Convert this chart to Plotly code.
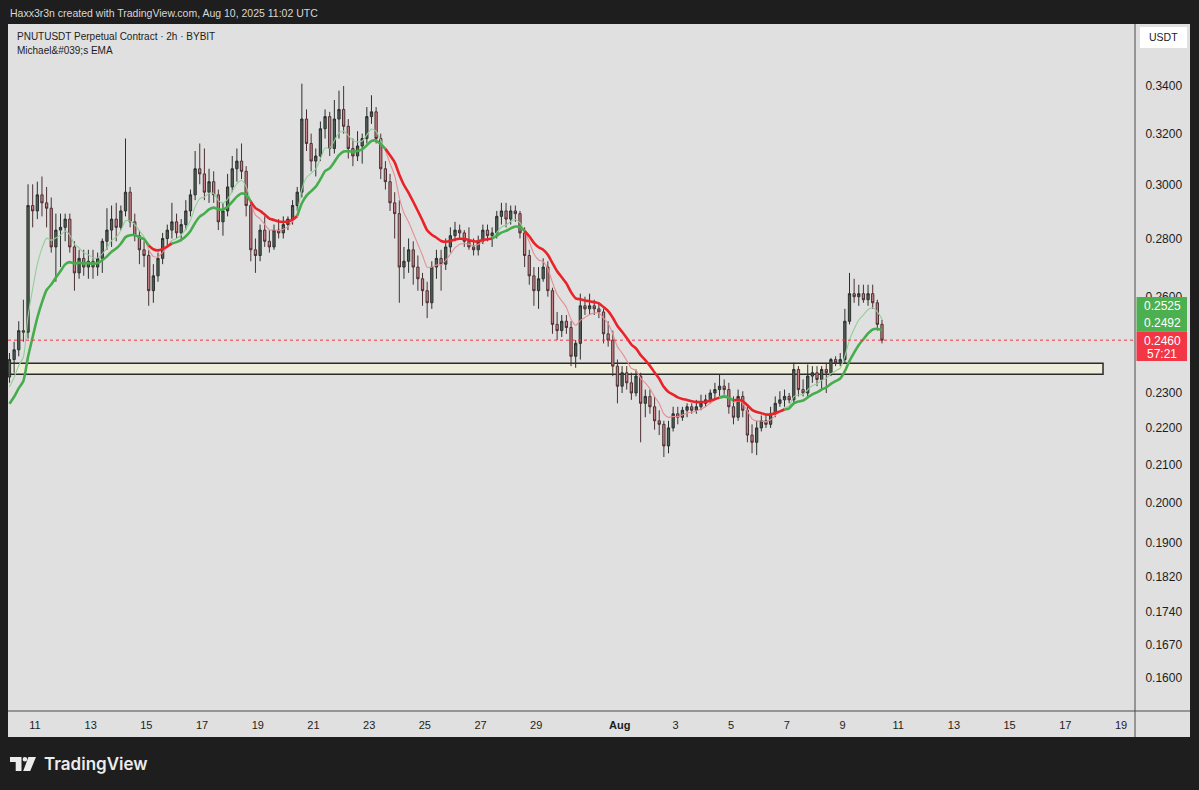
import math
import pandas as pd
import plotly.graph_objects as go

# ---------------- data (PNUTUSDT, candles, 4h buckets) ----------------
bar_start = "2025-07-10 00:00"
opens = [
    0.2347, 0.2400, 0.2430, 0.2490, 0.2485, 0.2920,  # Jul 10
    0.2900, 0.2960, 0.2930, 0.2910, 0.2770, 0.2830,  # Jul 11
    0.2840, 0.2870, 0.2770, 0.2680, 0.2730, 0.2700,  # Jul 12
    0.2720, 0.2700, 0.2730, 0.2790, 0.2830, 0.2870,  # Jul 13
    0.2840, 0.2900, 0.2970, 0.2860, 0.2810, 0.2760,  # Jul 14
    0.2740, 0.2620, 0.2670, 0.2730, 0.2800, 0.2830,  # Jul 15
    0.2860, 0.2820, 0.2850, 0.2900, 0.2960, 0.3060,  # Jul 16
    0.3040, 0.2970, 0.3010, 0.2960, 0.2860, 0.2900,  # Jul 17
    0.2990, 0.3060, 0.3090, 0.3050, 0.2920, 0.2760,  # Jul 18
    0.2740, 0.2830, 0.2790, 0.2770, 0.2830, 0.2820,  # Jul 19
    0.2850, 0.2870, 0.2920, 0.2970, 0.3260, 0.3160,  # Jul 20
    0.3090, 0.3110, 0.3220, 0.3270, 0.3140, 0.3260,  # Jul 21
    0.3300, 0.3230, 0.3140, 0.3110, 0.3150, 0.3180,  # Jul 22
    0.3270, 0.3290, 0.3180, 0.3060, 0.3010, 0.2930,  # Jul 23
    0.2890, 0.2700, 0.2720, 0.2760, 0.2700, 0.2660,  # Jul 24
    0.2620, 0.2580, 0.2700, 0.2730, 0.2710, 0.2770,  # Jul 25
    0.2810, 0.2830, 0.2820, 0.2790, 0.2770, 0.2760,  # Jul 26
    0.2790, 0.2830, 0.2810, 0.2820, 0.2880, 0.2900,  # Jul 27
    0.2870, 0.2900, 0.2890, 0.2820, 0.2740, 0.2670,  # Jul 28
    0.2620, 0.2660, 0.2700, 0.2620, 0.2510, 0.2490,  # Jul 29
    0.2520, 0.2500, 0.2410, 0.2450, 0.2570, 0.2560,  # Jul 30
    0.2570, 0.2560, 0.2550, 0.2480, 0.2460, 0.2380,  # Jul 31
    0.2320, 0.2360, 0.2330, 0.2300, 0.2350, 0.2270,  # Aug 1
    0.2290, 0.2260, 0.2220, 0.2210, 0.2150, 0.2200,  # Aug 2
    0.2240, 0.2230, 0.2250, 0.2260, 0.2250, 0.2260,  # Aug 3
    0.2270, 0.2280, 0.2300, 0.2310, 0.2320, 0.2310,  # Aug 4
    0.2260, 0.2230, 0.2290, 0.2250, 0.2180, 0.2160,  # Aug 5
    0.2200, 0.2220, 0.2210, 0.2240, 0.2270, 0.2280,  # Aug 6
    0.2290, 0.2280, 0.2370, 0.2310, 0.2300, 0.2350,  # Aug 7
    0.2360, 0.2340, 0.2370, 0.2360, 0.2400, 0.2390,  # Aug 8
    0.2400, 0.2520, 0.2610, 0.2600, 0.2610, 0.2590,  # Aug 9
    0.2610, 0.2580, 0.2510,                          # Aug 10
]
highs = [
    0.2420, 0.2455, 0.2520, 0.2590, 0.3000, 0.3000,
    0.3010, 0.3030, 0.2990, 0.2950, 0.2890, 0.2890,
    0.2890, 0.2890, 0.2790, 0.2760, 0.2760, 0.2760,
    0.2760, 0.2750, 0.2800, 0.2910, 0.2920, 0.2930,
    0.2920, 0.3180, 0.2990, 0.2890, 0.2830, 0.2790,
    0.2760, 0.2710, 0.2750, 0.2820, 0.2850, 0.2930,
    0.2890, 0.2870, 0.2940, 0.2980, 0.3130, 0.3160,
    0.3140, 0.3060, 0.3050, 0.2980, 0.2930, 0.3040,
    0.3110, 0.3140, 0.3160, 0.3070, 0.2940, 0.2800,
    0.2850, 0.2880, 0.2830, 0.2850, 0.2870, 0.2880,
    0.2880, 0.2940, 0.2990, 0.3410, 0.3300, 0.3200,
    0.3140, 0.3250, 0.3300, 0.3290, 0.3340, 0.3380,
    0.3400, 0.3260, 0.3180, 0.3210, 0.3200, 0.3310,
    0.3360, 0.3310, 0.3200, 0.3090, 0.3040, 0.2970,
    0.2940, 0.2770, 0.2800, 0.2790, 0.2740, 0.2680,
    0.2650, 0.2720, 0.2760, 0.2760, 0.2800, 0.2840,
    0.2860, 0.2850, 0.2830, 0.2840, 0.2800, 0.2810,
    0.2850, 0.2850, 0.2840, 0.2900, 0.2930, 0.2930,
    0.2920, 0.2920, 0.2900, 0.2840, 0.2760, 0.2700,
    0.2700, 0.2730, 0.2720, 0.2630, 0.2550, 0.2540,
    0.2540, 0.2520, 0.2460, 0.2610, 0.2600, 0.2610,
    0.2590, 0.2580, 0.2560, 0.2520, 0.2490, 0.2400,
    0.2380, 0.2380, 0.2360, 0.2370, 0.2360, 0.2310,
    0.2310, 0.2290, 0.2250, 0.2220, 0.2220, 0.2260,
    0.2260, 0.2260, 0.2270, 0.2270, 0.2280, 0.2295,
    0.2295, 0.2310, 0.2330, 0.2355, 0.2340, 0.2330,
    0.2290, 0.2310, 0.2305, 0.2260, 0.2210, 0.2220,
    0.2235, 0.2240, 0.2260, 0.2290, 0.2305, 0.2310,
    0.2300, 0.2390, 0.2380, 0.2340, 0.2385, 0.2380,
    0.2380, 0.2380, 0.2390, 0.2405, 0.2410, 0.2420,
    0.2560, 0.2680, 0.2660, 0.2640, 0.2640, 0.2640,
    0.2640, 0.2590, 0.2525,
]
lows = [
    0.2330, 0.2360, 0.2410, 0.2455, 0.2465, 0.2840,
    0.2870, 0.2880, 0.2840, 0.2750, 0.2650, 0.2700,
    0.2790, 0.2750, 0.2620, 0.2660, 0.2670, 0.2660,
    0.2660, 0.2670, 0.2680, 0.2760, 0.2770, 0.2790,
    0.2830, 0.2880, 0.2840, 0.2790, 0.2710, 0.2700,
    0.2570, 0.2580, 0.2650, 0.2710, 0.2770, 0.2800,
    0.2800, 0.2790, 0.2830, 0.2880, 0.2940, 0.3000,
    0.2940, 0.2930, 0.2930, 0.2830, 0.2810, 0.2880,
    0.2970, 0.3010, 0.3020, 0.2880, 0.2720, 0.2680,
    0.2720, 0.2770, 0.2750, 0.2760, 0.2800, 0.2800,
    0.2830, 0.2850, 0.2900, 0.2950, 0.3130, 0.3050,
    0.3030, 0.3090, 0.3180, 0.3110, 0.3120, 0.3180,
    0.3200, 0.3100, 0.3070, 0.3090, 0.3080, 0.3160,
    0.3240, 0.3160, 0.3020, 0.2980, 0.2900, 0.2800,
    0.2580, 0.2660, 0.2680, 0.2640, 0.2620, 0.2570,
    0.2530, 0.2560, 0.2660, 0.2620, 0.2690, 0.2750,
    0.2790, 0.2800, 0.2770, 0.2760, 0.2740, 0.2740,
    0.2780, 0.2790, 0.2770, 0.2800, 0.2850, 0.2840,
    0.2850, 0.2860, 0.2800, 0.2700, 0.2640, 0.2570,
    0.2560, 0.2650, 0.2600, 0.2480, 0.2460, 0.2470,
    0.2480, 0.2380, 0.2375, 0.2400, 0.2540, 0.2540,
    0.2540, 0.2530, 0.2450, 0.2440, 0.2350, 0.2270,
    0.2300, 0.2310, 0.2280, 0.2290, 0.2160, 0.2230,
    0.2240, 0.2195, 0.2180, 0.2120, 0.2130, 0.2190,
    0.2210, 0.2220, 0.2230, 0.2240, 0.2240, 0.2250,
    0.2260, 0.2270, 0.2280, 0.2290, 0.2290, 0.2240,
    0.2210, 0.2220, 0.2230, 0.2160, 0.2130, 0.2125,
    0.2190, 0.2200, 0.2200, 0.2230, 0.2260, 0.2260,
    0.2270, 0.2270, 0.2290, 0.2290, 0.2290, 0.2330,
    0.2320, 0.2310, 0.2300, 0.2350, 0.2380, 0.2380,
    0.2390, 0.2510, 0.2580, 0.2570, 0.2580, 0.2570,
    0.2560, 0.2490, 0.2450,
]
closes = [
    0.2400, 0.2430, 0.2490, 0.2485, 0.2920, 0.2900,
    0.2960, 0.2930, 0.2910, 0.2770, 0.2830, 0.2840,
    0.2870, 0.2770, 0.2680, 0.2730, 0.2700, 0.2720,
    0.2700, 0.2730, 0.2790, 0.2830, 0.2870, 0.2840,
    0.2900, 0.2970, 0.2860, 0.2810, 0.2760, 0.2740,
    0.2620, 0.2670, 0.2730, 0.2800, 0.2830, 0.2860,
    0.2820, 0.2850, 0.2900, 0.2960, 0.3060, 0.3040,
    0.2970, 0.3010, 0.2960, 0.2860, 0.2900, 0.2990,
    0.3060, 0.3090, 0.3050, 0.2920, 0.2760, 0.2740,
    0.2830, 0.2790, 0.2770, 0.2830, 0.2820, 0.2850,
    0.2870, 0.2920, 0.2970, 0.3260, 0.3160, 0.3090,
    0.3110, 0.3220, 0.3270, 0.3140, 0.3260, 0.3300,
    0.3230, 0.3140, 0.3110, 0.3150, 0.3180, 0.3270,
    0.3290, 0.3180, 0.3060, 0.3010, 0.2930, 0.2890,
    0.2700, 0.2720, 0.2760, 0.2700, 0.2660, 0.2620,
    0.2580, 0.2700, 0.2730, 0.2710, 0.2770, 0.2810,
    0.2830, 0.2820, 0.2790, 0.2770, 0.2760, 0.2790,
    0.2830, 0.2810, 0.2820, 0.2880, 0.2900, 0.2870,
    0.2900, 0.2890, 0.2820, 0.2740, 0.2670, 0.2620,
    0.2660, 0.2700, 0.2620, 0.2510, 0.2490, 0.2520,
    0.2500, 0.2410, 0.2450, 0.2570, 0.2560, 0.2570,
    0.2560, 0.2550, 0.2480, 0.2460, 0.2380, 0.2320,
    0.2360, 0.2330, 0.2300, 0.2350, 0.2270, 0.2290,
    0.2260, 0.2220, 0.2210, 0.2150, 0.2200, 0.2240,
    0.2230, 0.2250, 0.2260, 0.2250, 0.2260, 0.2270,
    0.2280, 0.2300, 0.2310, 0.2320, 0.2310, 0.2260,
    0.2230, 0.2290, 0.2250, 0.2180, 0.2160, 0.2200,
    0.2220, 0.2210, 0.2240, 0.2270, 0.2280, 0.2290,
    0.2280, 0.2370, 0.2310, 0.2300, 0.2350, 0.2360,
    0.2340, 0.2370, 0.2360, 0.2400, 0.2390, 0.2400,
    0.2520, 0.2610, 0.2600, 0.2610, 0.2590, 0.2610,
    0.2580, 0.2510, 0.2460,
]

ytick_vals = [0.34, 0.32, 0.30, 0.28, 0.26, 0.23, 0.22, 0.21, 0.20, 0.19, 0.182, 0.174, 0.167, 0.16]
ytick_text = ["0.3400", "0.3200", "0.3000", "0.2800", "0.2600", "0.2300", "0.2200", "0.2100",
              "0.2000", "0.1900", "0.1820", "0.1740", "0.1670", "0.1600"]
xtick_dates = ["2025-07-11", "2025-07-13", "2025-07-15", "2025-07-17", "2025-07-19", "2025-07-21",
               "2025-07-23", "2025-07-25", "2025-07-27", "2025-07-29", "2025-08-01", "2025-08-03",
               "2025-08-05", "2025-08-07", "2025-08-09", "2025-08-11", "2025-08-13", "2025-08-15",
               "2025-08-17", "2025-08-19"]
xtick_text = ["11", "13", "15", "17", "19", "21", "23", "25", "27", "29", "<b>Aug</b>", "3", "5",
              "7", "9", "11", "13", "15", "17", "19"]

zone_low, zone_high = 0.23555, 0.23885
zone_start, zone_end = "2025-07-09 12:00", "2025-08-18 08:30"
last_price = 0.2460
label_fast, label_slow, label_last, countdown = "0.2525", "0.2492", "0.2460", "57:21"

# EMA settings (indicator "Michael's EMA"), expressed for the 4h buckets
alpha_fast, alpha_slow = 0.25, 0.125
seed_fast, seed_slow = 0.229, 0.225

# ---------------- derived ----------------
times = pd.date_range(bar_start, periods=len(closes), freq="4h") + pd.Timedelta(hours=2)

def ema(vals, alpha, seed):
    out, prev = [], seed
    for v in vals:
        prev = prev + alpha * (v - prev)
        out.append(prev)
    return out

fast = ema(closes, alpha_fast, seed_fast)
slow = ema(closes, alpha_slow, seed_slow)
bull = [f >= s for f, s in zip(fast, slow)]

# ---------------- geometry (pixels -> paper) ----------------
W, H = 1199, 790
PL, PR, PT, PB = 8, 1135, 24, 711

def px(x):
    return (x - PL) / (PR - PL)

def py(y):
    return (PB - y) / (PB - PT)

# y scale: log, 0.34 at y=86, 785.4 px per ln unit
def price_at(ypix):
    return 0.34 * math.exp(-(ypix - 86) / 785.4)

y_top, y_bot = price_at(PT), price_at(PB)
day_px = (1121 - 35) / 39.0
x_left = pd.Timestamp("2025-07-11") - pd.Timedelta(days=(35 - PL) / day_px)
x_right = pd.Timestamp("2025-08-19") + pd.Timedelta(days=(PR - 1121) / day_px)

fig = go.Figure()
fig.add_trace(go.Candlestick(
    x=times, open=opens, high=highs, low=lows, close=closes,
    increasing=dict(line=dict(color="#2a2f2c", width=1), fillcolor="#526157"),
    decreasing=dict(line=dict(color="#4a3033", width=1), fillcolor="#c98086"),
    whiskerwidth=0, hoverinfo="skip", showlegend=False,
))

def add_runs(vals, c_bull, c_bear, width):
    n = len(vals)
    start = 0
    for i in range(1, n + 1):
        if i == n or bull[i] != bull[start]:
            end = min(i, n - 1)
            fig.add_trace(go.Scatter(
                x=times[start:end + 1], y=vals[start:end + 1], mode="lines",
                line=dict(color=c_bull if bull[start] else c_bear, width=width, shape="spline", smoothing=0.6),
                hoverinfo="skip", showlegend=False))
            start = i

add_runs(fast, "#92cf98", "#e58e93", 1.1)
add_runs(slow, "#46ad4c", "#ea2329", 2.6)

shapes = [
    # light chart panel (plot + axes)
    dict(type="rect", xref="paper", yref="paper", x0=0, x1=px(1190), y0=py(737), y1=1,
         fillcolor="#e0e0e0", line=dict(width=0), layer="below"),
    # support zone
    dict(type="rect", xref="x", yref="y", x0=zone_start, x1=zone_end, y0=zone_low, y1=zone_high,
         fillcolor="#eeeddc", line=dict(color="#2a2a2a", width=1.5), layer="below"),
    # last price dotted line
    dict(type="line", xref="paper", yref="y", x0=0, x1=1, y0=last_price, y1=last_price,
         line=dict(color="#f23645", width=1, dash="dot")),
    # separators
    dict(type="line", xref="paper", yref="paper", x0=1, x1=1, y0=py(737), y1=1,
         line=dict(color="#4a4a4a", width=1)),
    dict(type="line", xref="paper", yref="paper", x0=0, x1=px(1190), y0=0, y1=0,
         line=dict(color="#4a4a4a", width=1)),
    # USDT box
    dict(type="rect", xref="paper", yref="paper", x0=px(1140), x1=px(1187), y0=py(48), y1=py(27),
         fillcolor="#ffffff", line=dict(width=0)),
    # price labels
    dict(type="rect", xref="paper", yref="paper", x0=px(1136.5), x1=px(1187), y0=py(314), y1=py(297),
         fillcolor="#4caf50", line=dict(width=0)),
    dict(type="rect", xref="paper", yref="paper", x0=px(1136.5), x1=px(1187), y0=py(331.5), y1=py(314),
         fillcolor="#4caf50", line=dict(width=0)),
    dict(type="rect", xref="paper", yref="paper", x0=px(1136.5), x1=px(1187), y0=py(361), y1=py(331.5),
         fillcolor="#f23645", line=dict(width=0)),
]

# TradingView logo glyph
def path(points):
    return "M " + " L ".join(f"{px(a):.5f},{py(b):.5f}" for a, b in points) + " Z"

shapes += [
    dict(type="path", xref="paper", yref="paper",
         path=path([(10, 757), (21.5, 757), (21.5, 771), (15.7, 771), (15.7, 762), (10, 762)]),
         fillcolor="#ececec", line=dict(width=0)),
    dict(type="circle", xref="paper", yref="paper", x0=px(22.6), x1=px(27.2), y0=py(761.6), y1=py(757),
         fillcolor="#ececec", line=dict(width=0)),
    dict(type="path", xref="paper", yref="paper",
         path=path([(28.4, 757), (36, 757), (30.2, 771), (23.2, 771)]),
         fillcolor="#ececec", line=dict(width=0)),
]

ann_font = "Liberation Sans, Arial, sans-serif"
annotations = [
    dict(text="Haxx3r3n created with TradingView.com, Aug 10, 2025 11:02 UTC", x=px(8), y=py(13),
         xanchor="left", yanchor="middle", font=dict(family=ann_font, size=10.5, color="#d8d8d8")),
    dict(text="PNUTUSDT Perpetual Contract · 2h · BYBIT", x=px(15), y=py(36),
         xanchor="left", yanchor="middle", font=dict(family=ann_font, size=10, color="#1c1c1c")),
    dict(text="Michael&amp;#039;s EMA", x=px(15), y=py(51),
         xanchor="left", yanchor="middle", font=dict(family=ann_font, size=10, color="#1c1c1c")),
    dict(text="USDT", x=px(1163.5), y=py(37.5), xanchor="center", yanchor="middle",
         font=dict(family=ann_font, size=10.5, color="#1c1c1c")),
    dict(text=label_fast, x=px(1162), y=py(305.5), xanchor="center", yanchor="middle",
         font=dict(family=ann_font, size=12, color="#ffffff")),
    dict(text=label_slow, x=px(1162), y=py(323), xanchor="center", yanchor="middle",
         font=dict(family=ann_font, size=12, color="#ffffff")),
    dict(text=label_last, x=px(1162), y=py(340.5), xanchor="center", yanchor="middle",
         font=dict(family=ann_font, size=12, color="#ffffff")),
    dict(text=countdown, x=px(1162), y=py(353.5), xanchor="center", yanchor="middle",
         font=dict(family=ann_font, size=12, color="#ffffff")),
    dict(text="TradingView", x=px(42), y=py(764), xanchor="left", yanchor="middle",
         font=dict(family="Inter, sans-serif", size=17, color="#ececec", weight=600)),
]
for a in annotations:
    a.update(xref="paper", yref="paper", showarrow=False)

fig.update_layout(
    width=W, height=H,
    margin=dict(l=PL, r=W - PR, t=PT, b=H - PB, pad=0),
    paper_bgcolor="#1e1e1e", plot_bgcolor="#e0e0e0",
    showlegend=False, hovermode=False,
    shapes=shapes, annotations=annotations,
    xaxis=dict(type="date", range=[x_left, x_right], rangeslider=dict(visible=False),
               showgrid=False, zeroline=False, showline=False,
               tickvals=xtick_dates, ticktext=xtick_text, ticks="outside", ticklen=4,
               tickcolor="rgba(0,0,0,0)", tickfont=dict(family=ann_font, size=11, color="#1c1c1c")),
    yaxis=dict(type="log", range=[math.log10(y_bot), math.log10(y_top)], side="right",
               showgrid=False, zeroline=False, showline=False,
               tickvals=ytick_vals, ticktext=ytick_text, ticks="outside", ticklen=7,
               tickcolor="rgba(0,0,0,0)", tickfont=dict(family=ann_font, size=12, color="#1c1c1c")),
)

fig.write_html(
    "out.html",
    config={"displayModeBar": False},
    post_script="document.body.style.margin='0';document.body.style.background='#1e1e1e';",
)
